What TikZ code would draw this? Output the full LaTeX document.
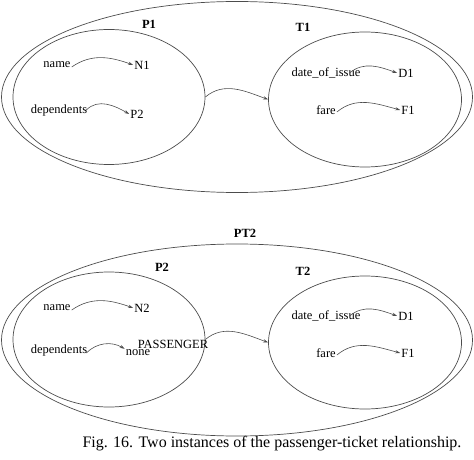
\documentclass[tikz,border=0pt]{standalone}
\usepackage{fontspec}
\setmainfont{Liberation Serif}
\usetikzlibrary{shapes.geometric,arrows.meta}
\begin{document}
\begin{tikzpicture}[x=1bp,y=-1bp,
  every node/.style={font=\fontsize{12.5bp}{14bp}\selectfont, inner sep=1bp},
  ell/.style={draw=black!70, line width=0.7bp, ellipse, inner sep=0pt},
  lbl/.style={font=\fontsize{12.5bp}{14bp}\selectfont\bfseries},
  arr/.style={draw=black!70, line width=0.6bp, -{Stealth[length=5bp,width=3.2bp]}}]
\useasboundingbox (0,0) rectangle (474,460);
% ---------- top instance ----------
\node[ell, minimum width=471bp, minimum height=191bp] (PT1e) at (237,97) {};
\node[ell, minimum width=192bp, minimum height=135bp] (P1e) at (109,97) {};
\node[ell, minimum width=193bp, minimum height=135bp] (T1e) at (365,99.5) {};
\node[lbl] (P1l) at (149,24) {P1};
\node[lbl] (T1l) at (303,27) {T1};
\node (name1) at (57,65) {name};
\node (N1) at (142,65) {N1};
\node (dep1) at (59,110) {dependents};
\node (P2v) at (137,114) {P2};
\node (doi1) at (326,73) {date\_of\_issue};
\node (D1a) at (406,73) {D1};
\node (fare1) at (326,110) {fare};
\node (F1a) at (408,110) {F1};
\draw[arr] ([yshift=-2bp]name1.east) to[out=35,in=160] (N1.west);
\draw[arr] ([xshift=-2bp]dep1.east) to[out=45,in=150] (P2v.west);
\draw[arr] ([xshift=-12bp]doi1.east) to[out=40,in=160] (D1a.west);
\draw[arr] ([yshift=-2bp]fare1.east) to[out=40,in=165] (F1a.west);
\draw[arr] (P1e.east) to[out=40,in=160] (T1e.west);
% ---------- bottom instance ----------
\node[ell, minimum width=471bp, minimum height=192bp] (PT2e) at (237,340) {};
\node[ell, minimum width=192bp, minimum height=135bp] (P2e) at (109,339.5) {};
\node[ell, minimum width=193bp, minimum height=133bp] (T2e) at (365,342.5) {};
\node[lbl] (PT2l) at (245,233) {PT2};
\node[lbl] (P2l) at (162,267) {P2};
\node[lbl] (T2l) at (303,271) {T2};
\node (name2) at (57,308) {name};
\node (N2) at (142,308) {N2};
\node (dep2) at (59,350) {dependents};
\node (none) at (138,353) {none};
\node (pass) at (173,344) {PASSENGER};
\node (doi2) at (326,316) {date\_of\_issue};
\node (D1b) at (406,316) {D1};
\node (fare2) at (326,353) {fare};
\node (F1b) at (408,353) {F1};
\draw[arr] ([yshift=-2bp]name2.east) to[out=35,in=160] (N2.west);
\draw[arr] ([xshift=-2bp,yshift=-3bp]dep2.east) to[out=45,in=150] (none.north west);
\draw[arr] ([xshift=-12bp]doi2.east) to[out=40,in=160] (D1b.west);
\draw[arr] ([yshift=-2bp]fare2.east) to[out=40,in=165] (F1b.west);
\draw[arr] (P2e.east) to[out=40,in=160] (T2e.west);
\node[font=\fontsize{16bp}{18bp}\selectfont] (cap) at (272,444) {Fig. 16. Two instances of the passenger-ticket relationship.};
\end{tikzpicture}
\end{document}
